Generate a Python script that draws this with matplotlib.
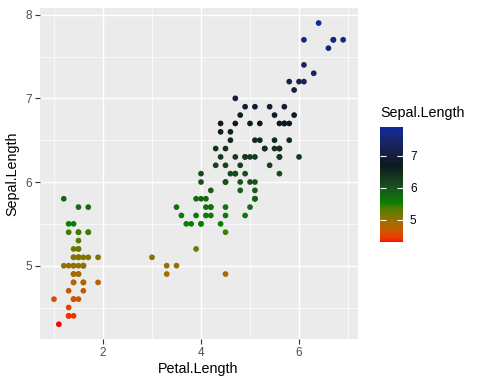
import numpy as np
import matplotlib
matplotlib.use("Agg")
import matplotlib.pyplot as plt
from matplotlib.colors import ListedColormap, Normalize, to_rgb
from matplotlib.cm import ScalarMappable

# iris: Petal.Length vs Sepal.Length
petal_length = [
    1.4, 1.4, 1.3, 1.5, 1.4, 1.7, 1.4, 1.5, 1.4, 1.5, 1.5, 1.6, 1.4, 1.1, 1.2, 1.5, 1.3, 1.4, 1.7, 1.5,
    1.7, 1.5, 1.0, 1.7, 1.9, 1.6, 1.6, 1.5, 1.4, 1.6, 1.6, 1.5, 1.5, 1.4, 1.5, 1.2, 1.3, 1.4, 1.3, 1.5,
    1.3, 1.3, 1.3, 1.6, 1.9, 1.4, 1.6, 1.4, 1.5, 1.4,
    4.7, 4.5, 4.9, 4.0, 4.6, 4.5, 4.7, 3.3, 4.6, 3.9, 3.5, 4.2, 4.0, 4.7, 3.6, 4.4, 4.5, 4.1, 4.5, 3.9,
    4.8, 4.0, 4.9, 4.7, 4.3, 4.4, 4.8, 5.0, 4.5, 3.5, 3.8, 3.7, 3.9, 5.1, 4.5, 4.5, 4.7, 4.4, 4.1, 4.0,
    4.4, 4.6, 4.0, 3.3, 4.2, 4.2, 4.2, 4.3, 3.0, 4.1,
    6.0, 5.1, 5.9, 5.6, 5.8, 6.6, 4.5, 6.3, 5.8, 6.1, 5.1, 5.3, 5.5, 5.0, 5.1, 5.3, 5.5, 6.7, 6.9, 5.0,
    5.7, 4.9, 6.7, 4.9, 5.7, 6.0, 4.8, 4.9, 5.6, 5.8, 6.1, 6.4, 5.6, 5.1, 5.6, 6.1, 5.6, 5.5, 4.8, 5.4,
    5.6, 5.1, 5.1, 5.9, 5.7, 5.2, 5.0, 5.2, 5.4, 5.1,
]
sepal_length = [
    5.1, 4.9, 4.7, 4.6, 5.0, 5.4, 4.6, 5.0, 4.4, 4.9, 5.4, 4.8, 4.8, 4.3, 5.8, 5.7, 5.4, 5.1, 5.7, 5.1,
    5.4, 5.1, 4.6, 5.1, 4.8, 5.0, 5.0, 5.2, 5.2, 4.7, 4.8, 5.4, 5.2, 5.5, 4.9, 5.0, 5.5, 4.9, 4.4, 5.1,
    5.0, 4.5, 4.4, 5.0, 5.1, 4.8, 5.1, 4.6, 5.3, 5.0,
    7.0, 6.4, 6.9, 5.5, 6.5, 5.7, 6.3, 4.9, 6.6, 5.2, 5.0, 5.9, 6.0, 6.1, 5.6, 6.7, 5.6, 5.8, 6.2, 5.6,
    5.9, 6.1, 6.3, 6.1, 6.4, 6.6, 6.8, 6.7, 6.0, 5.7, 5.5, 5.5, 5.8, 6.0, 5.4, 6.0, 6.7, 6.3, 5.6, 5.5,
    5.5, 6.1, 5.8, 5.0, 5.6, 5.7, 5.7, 6.2, 5.1, 5.7,
    6.3, 5.8, 7.1, 6.3, 6.5, 7.6, 4.9, 7.3, 6.7, 7.2, 6.5, 6.4, 6.8, 5.7, 5.8, 6.4, 6.5, 7.7, 7.7, 6.0,
    6.9, 5.6, 7.7, 6.3, 6.7, 7.2, 6.2, 6.1, 6.4, 7.2, 7.4, 7.9, 6.4, 6.3, 6.1, 7.7, 6.3, 6.4, 6.0, 6.9,
    6.7, 6.9, 5.8, 6.8, 6.7, 6.7, 6.3, 6.5, 6.2, 5.9,
]
gradient_colours = ["#FF0000", "#0A8000", "#0A1A1E", "#0A2A9C"]


# gradient interpolated in Lab space, like ggplot's gradientn
def srgb_to_lab(rgb):
    c = np.asarray(rgb, dtype=float)
    lin = np.where(c <= 0.04045, c / 12.92, ((c + 0.055) / 1.055) ** 2.4)
    m = np.array([[0.4124, 0.3576, 0.1805], [0.2126, 0.7152, 0.0722], [0.0193, 0.1192, 0.9505]])
    xyz = m @ lin / np.array([0.95047, 1.0, 1.08883])
    f = np.where(xyz > 0.008856, np.cbrt(xyz), 7.787 * xyz + 16 / 116)
    return np.array([116 * f[1] - 16, 500 * (f[0] - f[1]), 200 * (f[1] - f[2])])


def lab_to_srgb(lab):
    L, a, b = lab
    fy = (L + 16) / 116
    f = np.array([fy + a / 500, fy, fy - b / 200])
    xyz = np.where(f ** 3 > 0.008856, f ** 3, (f - 16 / 116) / 7.787) * np.array([0.95047, 1.0, 1.08883])
    m = np.array([[3.2406, -1.5372, -0.4986], [-0.9689, 1.8758, 0.0415], [0.0557, -0.2040, 1.0570]])
    lin = np.clip(m @ xyz, 0, 1)
    return np.clip(np.where(lin <= 0.0031308, 12.92 * lin, 1.055 * lin ** (1 / 2.4) - 0.055), 0, 1)


labs = [srgb_to_lab(to_rgb(c)) for c in gradient_colours]
stops = np.linspace(0, 1, len(labs))
samples = []
for t in np.linspace(0, 1, 256):
    i = min(np.searchsorted(stops, t, side="right") - 1, len(labs) - 2)
    u = (t - stops[i]) / (stops[i + 1] - stops[i])
    samples.append(lab_to_srgb(labs[i] * (1 - u) + labs[i + 1] * u))
cmap = ListedColormap(samples)
norm = Normalize(min(sepal_length), max(sepal_length))

plt.rcParams["font.family"] = ["Liberation Sans", "DejaVu Sans"]

fig = plt.figure(figsize=(4.8, 3.84), dpi=100)
ax = fig.add_axes([39.5 / 480, 1 - 339.3 / 384, (357.6 - 39.5) / 480, (339.3 - 8) / 384])
ax.set_facecolor("#EBEBEB")

ax.scatter(petal_length, sepal_length, c=sepal_length, cmap=cmap, norm=norm, s=17,
           linewidths=0, zorder=3)

xr = max(petal_length) - min(petal_length)
yr = max(sepal_length) - min(sepal_length)
ax.set_xlim(min(petal_length) - 0.05 * xr, max(petal_length) + 0.05 * xr)
ax.set_ylim(min(sepal_length) - 0.05 * yr, max(sepal_length) + 0.05 * yr)
ax.set_xticks([2, 4, 6])
ax.set_yticks([5, 6, 7, 8])
ax.set_xticks([1, 3, 5, 7], minor=True)
ax.set_yticks([4.5, 5.5, 6.5, 7.5], minor=True)
ax.grid(which="major", color="white", linewidth=1.05, zorder=1)
ax.grid(which="minor", color="white", linewidth=0.5, zorder=1)
ax.set_axisbelow(True)
for s in ax.spines.values():
    s.set_visible(False)
ax.tick_params(which="major", length=3.5, width=0.8, color="#333333", labelcolor="#4D4D4D",
               labelsize=8.5, pad=2)
ax.tick_params(which="minor", length=0)
ax.set_xlabel("Petal.Length", fontsize=10.3, labelpad=2)
ax.set_ylabel("Sepal.Length", fontsize=10.3, labelpad=4)

# colour bar legend
cax = fig.add_axes([380 / 480, 1 - 242 / 384, 23 / 480, 115 / 384])
cb = fig.colorbar(ScalarMappable(norm=norm, cmap=cmap), cax=cax)
cb.outline.set_visible(False)
cb.set_ticks([5, 6, 7])
cax.tick_params(direction="in", length=4.5, width=0.8, color="white", left=True, right=True,
                labelsize=8.5, labelcolor="#000000", pad=5)
fig.text(380 / 480, 1 - 113 / 384, "Sepal.Length", fontsize=10.3, ha="left", va="center")

fig.savefig("out.png", dpi=100)
